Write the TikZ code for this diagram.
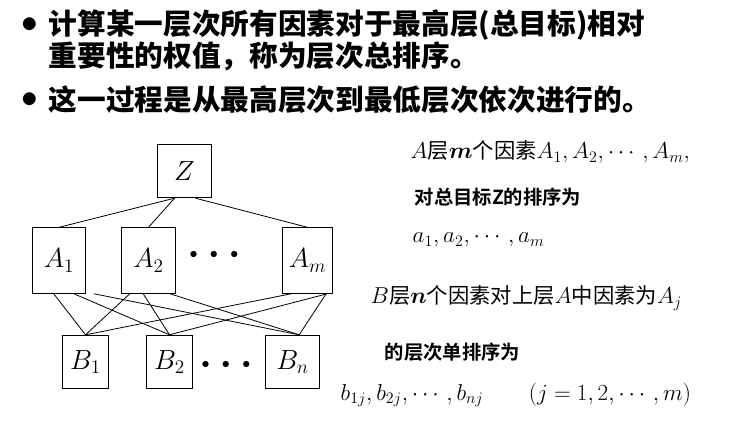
\documentclass[tikz,border=0pt]{standalone}
\usepackage{amsmath,amssymb}
\usepackage{fontspec}
\setmainfont{Liberation Serif}
\setsansfont{Liberation Sans}
\newfontfamily\cjk{Noto Sans CJK SC}
\newfontfamily\cjkb{Noto Sans CJK SC Bold}
\usetikzlibrary{positioning}
\tikzset{
  box/.style={draw,thick,inner sep=0pt,font=\fontsize{22}{22}\selectfont},
  link/.style={line width=0.6pt},
  head/.style={anchor=west,font=\sffamily\bfseries\cjkb\fontsize{21.5}{23}\selectfont,align=left},
  dot/.style={font=\fontsize{24}{24}\selectfont},
  txt/.style={anchor=west,font=\fontsize{17}{18}\selectfont},
  bold/.style={anchor=west,font=\cjkb\fontsize{14.5}{16}\selectfont}
}
\newcommand{\zh}[1]{{\cjk\fontsize{16}{18}\selectfont #1}}
\begin{document}
\begin{tikzpicture}[x=0.75pt,y=-0.75pt]
\useasboundingbox (0,0) rectangle (733,429);
% header
\node[dot] (b1) at (30,25) {$\bullet$};
\node[head] (h1) at (44,40) {计算某一层次所有因素对于最高层(总目标)相对\\重要性的权值，称为层次总排序。};
\node[dot] (b2) at (30,100) {$\bullet$};
\node[head] (h2) at (44,100) {这一过程是从最高层次到最低层次依次进行的。};
% tree
\node[box,minimum width=41pt,minimum height=40pt] (Z) at (184.5,171) {$Z$};
\node[box,minimum width=40pt,minimum height=49pt] (A1) at (59,260.5) {$A_1$};
\node[box,minimum width=40pt,minimum height=49pt] (A2) at (148.5,260.5) {$A_2$};
\node[box,minimum width=37pt,minimum height=49pt] (Am) at (307.5,260.5) {$A_m$};
\node[font=\fontsize{12}{12}\selectfont] (Ad) at (214,255) {$\bullet\;\;\bullet\;\;\bullet$};
\node[box,minimum width=35pt,minimum height=40pt] (B1) at (85.5,362) {$B_1$};
\node[box,minimum width=35pt,minimum height=40pt] (B2) at (169.5,362) {$B_2$};
\node[box,minimum width=40pt,minimum height=40pt] (Bn) at (292.5,362) {$B_n$};
\node[font=\fontsize{12}{12}\selectfont] (Bd) at (226,365) {$\bullet\;\;\bullet\;\;\bullet$};
% links
\draw[link] (Z.south)++(-10,0) coordinate (z1) -- (A1.north);
\draw[link] (z1) -- (A2.north);
\draw[link] (Z.south)++(11,0) -- (Am.north);
\foreach \a/\o in {A1/-4,A2/-14,Am/-12} \draw[link] ([xshift=\o]\a.south) -- (B1.north);
\foreach \a/\o in {A1/11,A2/-4,Am/15} \draw[link] ([xshift=\o]\a.south) -- (B2.north);
\foreach \a/\o in {A1/26,A2/16,Am/14} \draw[link] ([xshift=\o]\a.south) -- ([xshift=5]Bn.north);
% right text
\node[txt] (t1) at (406,152) {$A$\zh{层}$\boldsymbol{m}$\zh{个因素}$A_1,A_2,\cdots,A_m,$};
\node[bold] (t2) at (410,197) {对总目标Z的排序为};
\node[txt] (t3) at (408,240) {$a_1,a_2,\cdots,a_m$};
\node[txt] (t4) at (366,298) {$B$\zh{层}$\boldsymbol{n}$\zh{个因素对上层}$A$\zh{中因素为}$A_j$};
\node[bold] (t5) at (380,352) {的层次单排序为};
\node[txt] (t6) at (336,395) {$b_{1j},b_{2j},\cdots,b_{nj}\qquad(j=1,2,\cdots,m)$};
\end{tikzpicture}
\end{document}
